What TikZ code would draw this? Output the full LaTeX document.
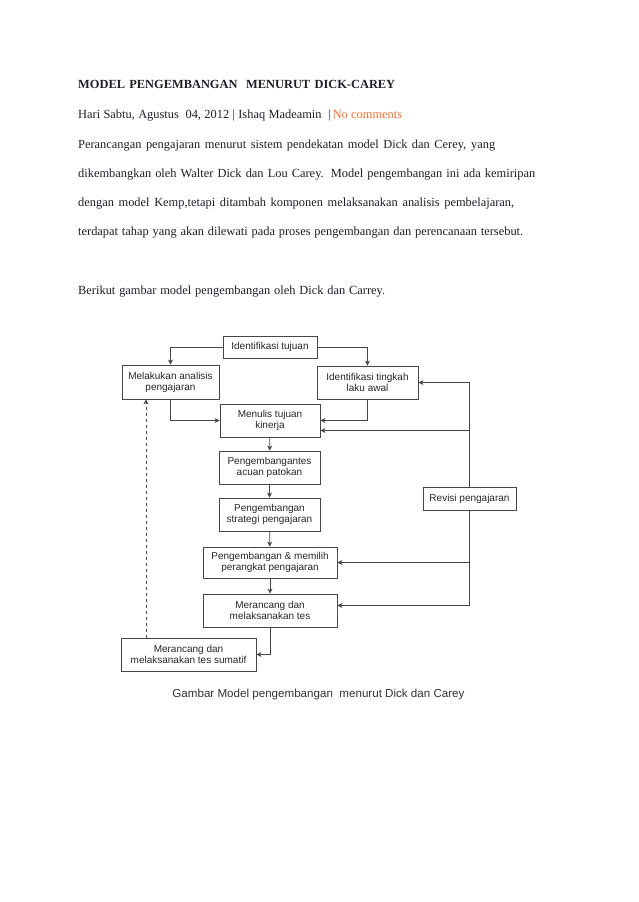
\documentclass[tikz,border=0pt]{standalone}
\usepackage{fontspec}
\setmainfont{Liberation Serif}
\setsansfont{Liberation Sans}
\usetikzlibrary{calc, arrows.meta}
\definecolor{ink}{RGB}{30,30,40}
\definecolor{link}{RGB}{240,110,50}
\definecolor{boxline}{RGB}{70,70,70}
\tikzset{
  box/.style={draw=boxline,line width=0.8pt,align=center,inner sep=1pt,
    font=\sffamily\fontsize{10}{11}\selectfont,text=black!85},
  arr/.style={draw=boxline,line width=0.8pt,-{Stealth[length=5pt,width=5pt,inset=1.5pt]}},
  line/.style={anchor=base west,inner sep=0pt,text=ink,
    font=\fontsize{12.4}{14}\selectfont}
}

\begin{document}
\begin{tikzpicture}[x=1pt,y=-1pt]
\useasboundingbox (0,0) rectangle (638,902);
% Text above the picture
\node[line] (title) at (78,88) {\makebox[317pt][s]{\bfseries MODEL PENGEMBANGAN \ MENURUT DICK-CAREY}};
\node[line] (meta) at (78,118) {\makebox[324pt][s]{Hari Sabtu, Agustus \ 04, 2012 | Ishaq Madeamin \ |\,\textcolor{link}{No comments}}};
\node[line] (p1) at (78,148) {\makebox[417pt][s]{Perancangan pengajaran menurut sistem pendekatan model Dick dan Cerey, yang}};
\node[line] (p2) at (78,177) {\makebox[457pt][s]{dikembangkan oleh Walter Dick dan Lou Carey. Model pengembangan ini ada kemiripan}};
\node[line] (p3) at (78,206) {\makebox[436pt][s]{dengan model Kemp,tetapi ditambah komponen melaksanakan analisis pembelajaran,}};
\node[line] (p4) at (78,235) {\makebox[445pt][s]{terdapat tahap yang akan dilewati pada proses pengembangan dan perencanaan tersebut.}};
\node[line] (p5) at (78,294) {\makebox[307pt][s]{Berikut gambar model pengembangan oleh Dick dan Carrey.}};
% Boxes of the model
\node[box,minimum width=94pt,minimum height=22pt] (tujuan) at (270,347) {Identifikasi tujuan};
\node[box,minimum width=97pt,minimum height=34pt] (analisis) at (170.5,382) {Melakukan analisis\\pengajaran};
\node[box,minimum width=101pt,minimum height=33pt] (awal) at (367.5,382.5) {Identifikasi tingkah\\laku awal};
\node[box,minimum width=100pt,minimum height=33pt] (kinerja) at (270,420.5) {Menulis tujuan\\kinerja};
\node[box,minimum width=101pt,minimum height=33pt] (patokan) at (269.5,467.5) {Pengembangantes\\acuan patokan};
\node[box,minimum width=101pt,minimum height=33pt] (strategi) at (269.5,514.5) {Pengembangan\\strategi pengajaran};
\node[box,minimum width=134pt,minimum height=31pt] (perangkat) at (270,562.5) {Pengembangan \& memilih\\perangkat pengajaran};
\node[box,minimum width=134pt,minimum height=33pt] (tes) at (270,610.5) {Merancang dan\\melaksanakan tes};
\node[box,minimum width=135pt,minimum height=33pt] (sumatif) at (188.5,654.5) {Merancang dan\\melaksanakan tes sumatif};
\node[box,minimum width=93pt,minimum height=23pt] (revisi) at (469.5,498.5) {Revisi pengajaran};
% Points where the lines meet the boxes
\coordinate (k2) at ($(kinerja.east)+(0,10)$);
\coordinate (t2) at ($(tes.east)+(0,-5)$);
\coordinate (dash) at (146,0);
% Main flow
\draw[arr] (tujuan.west) -| (analisis.north);
\draw[arr] (tujuan.east) -| (awal.north);
\draw[arr] (analisis.south) |- (kinerja.west);
\draw[arr] (awal.south) |- (kinerja.east);
\draw[arr] (kinerja) -- (patokan);
\draw[arr] (patokan) -- (strategi);
\draw[arr] (strategi) -- (perangkat);
\draw[arr] (perangkat) -- (tes);
\draw[arr] (tes.south) |- (sumatif.east);
\draw[arr,dashed] (sumatif.north -| dash) -- (analisis.south -| dash);
% Revision lines
\draw[arr] (revisi.north) |- (awal.east);
\draw[arr] (revisi.north |- k2) -- (k2);
\draw[arr] (revisi.south |- perangkat.east) -- (perangkat.east);
\draw[arr] (revisi.south) |- (t2);
% Caption
\node[anchor=base,inner sep=0pt,text=black!80,font=\sffamily\fontsize{11.6}{13}\selectfont] (caption) at (318.5,697) {Gambar Model pengembangan \ menurut Dick dan Carey};
\end{tikzpicture}
\end{document}
